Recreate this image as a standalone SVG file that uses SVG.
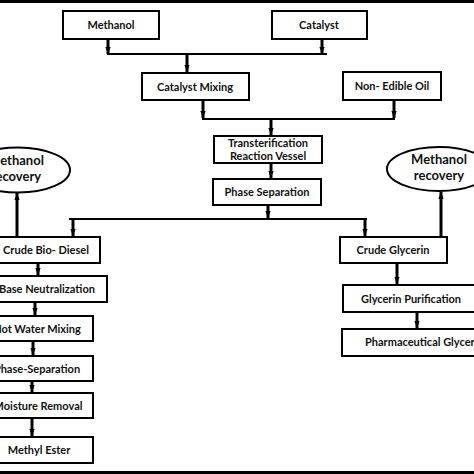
<svg xmlns="http://www.w3.org/2000/svg" width="474" height="474" viewBox="0 0 474 474">
<style>
.box{fill:#fff;stroke:#000;stroke-width:2}
.t{font-family:Lato,'Open Sans',sans-serif;font-weight:bold;font-size:11px;fill:#111;text-anchor:middle}
.te{font-family:Lato,'Open Sans',sans-serif;font-weight:bold;font-size:13px;fill:#111;text-anchor:middle}
.v{stroke:#000;stroke-width:3;fill:none}
.h{stroke:#000;stroke-width:2.2;fill:none}
</style>
<defs>
<marker id="ah" viewBox="0 0 8 6" refX="8" refY="3" markerWidth="2.4" markerHeight="2" orient="auto" markerUnits="strokeWidth">
<path d="M0,0 L8,3 L0,6 Z" fill="#000"/>
</marker>
</defs>
<rect x="0" y="0" width="474" height="3" fill="#000"/>
<rect x="0" y="471" width="474" height="3" fill="#000"/>
<g id="connectors">
<path class="v" d="M108,39 V54" marker-end="url(#ah)"/>
<path class="v" d="M322,39 V54" marker-end="url(#ah)"/>
<path class="h" d="M107,54 H327"/>
<path class="v" d="M187,54 V72" marker-end="url(#ah)"/>
<path class="v" d="M203,100 V118" marker-end="url(#ah)"/>
<path class="v" d="M394,100 V118" marker-end="url(#ah)"/>
<path class="h" d="M202,119 H395"/>
<path class="v" d="M271,119 V135" marker-end="url(#ah)"/>
<path class="v" d="M271,163 V178" marker-end="url(#ah)"/>
<path class="v" d="M268,205 V218" marker-end="url(#ah)"/>
<path class="h" d="M69,219 H367"/>
<path class="v" d="M73,219 V236" marker-end="url(#ah)"/>
<path class="v" d="M365,219 V236" marker-end="url(#ah)"/>
<path class="v" d="M17,237 V193" marker-end="url(#ah)"/>
<path class="v" d="M441,237 V192" marker-end="url(#ah)"/>
<path class="v" d="M38,263 V275" marker-end="url(#ah)"/>
<path class="v" d="M35,302 V315" marker-end="url(#ah)"/>
<path class="v" d="M33,341 V355" marker-end="url(#ah)"/>
<path class="v" d="M32,381 V392" marker-end="url(#ah)"/>
<path class="v" d="M32,418 V436" marker-end="url(#ah)"/>
<path class="v" d="M397,263 V284" marker-end="url(#ah)"/>
<path class="v" d="M417,312 V328" marker-end="url(#ah)"/>
</g>
<g id="methanol"><rect class="box" x="63" y="11" width="96" height="28"/><text class="t" x="111" y="29">Methanol</text></g>
<g id="catalyst"><rect class="box" x="272" y="11" width="95" height="28"/><text class="t" x="319" y="29">Catalyst</text></g>
<g id="catalyst-mixing"><rect class="box" x="142" y="73" width="107" height="27"/><text class="t" x="195" y="91">Catalyst Mixing</text></g>
<g id="non-edible-oil"><rect class="box" x="343" y="72" width="98" height="28"/><text class="t" x="392" y="90">Non- Edible Oil</text></g>
<g id="transterification"><rect class="box" x="214" y="136" width="108" height="27"/><text class="t" x="268" y="147">Transterification</text><text class="t" x="268" y="160">Reaction Vessel</text></g>
<g id="phase-separation"><rect class="box" x="213" y="179" width="108" height="26"/><text class="t" x="267" y="196">Phase Separation</text></g>
<g id="methanol-recovery-left"><ellipse cx="18" cy="170" rx="52" ry="22.5" fill="#fff" stroke="#000" stroke-width="2"/><text class="te" x="16" y="165">Methanol</text><text class="te" x="16" y="181">recovery</text></g>
<g id="methanol-recovery-right"><ellipse cx="439" cy="169" rx="52" ry="22" fill="#fff" stroke="#000" stroke-width="2"/><text class="te" x="439" y="164">Methanol</text><text class="te" x="439" y="180">recovery</text></g>
<g id="crude-bio-diesel"><rect class="box" x="-20" y="237" width="120" height="26"/><text class="t" x="46" y="254">Crude Bio- Diesel</text></g>
<g id="base-neutralization"><rect class="box" x="-20" y="276" width="127" height="26"/><text class="t" x="47" y="293">Base Neutralization</text></g>
<g id="hot-water-mixing"><rect class="box" x="-20" y="316" width="113" height="25"/><text class="t" x="37" y="333">Hot Water Mixing</text></g>
<g id="phase-separation-2"><rect class="box" x="-20" y="356" width="113" height="25"/><text class="t" x="37" y="373">Phase-Separation</text></g>
<g id="moisture-removal"><rect class="box" x="-20" y="393" width="113" height="25"/><text class="t" x="38" y="410">Moisture Removal</text></g>
<g id="methyl-ester"><rect class="box" x="-15" y="437" width="108" height="26"/><text class="t" x="39" y="454">Methyl Ester</text></g>
<g id="crude-glycerin"><rect class="box" x="340" y="237" width="107" height="26"/><text class="t" x="393" y="254">Crude Glycerin</text></g>
<g id="glycerin-purification"><rect class="box" x="343" y="285" width="140" height="27"/><text class="t" x="411" y="303">Glycerin Purification</text></g>
<g id="pharmaceutical-glycerin"><rect class="box" x="342" y="329" width="150" height="27"/><text class="t" x="365" y="346" style="text-anchor:start">Pharmaceutical Glycerin</text></g>
</svg>
